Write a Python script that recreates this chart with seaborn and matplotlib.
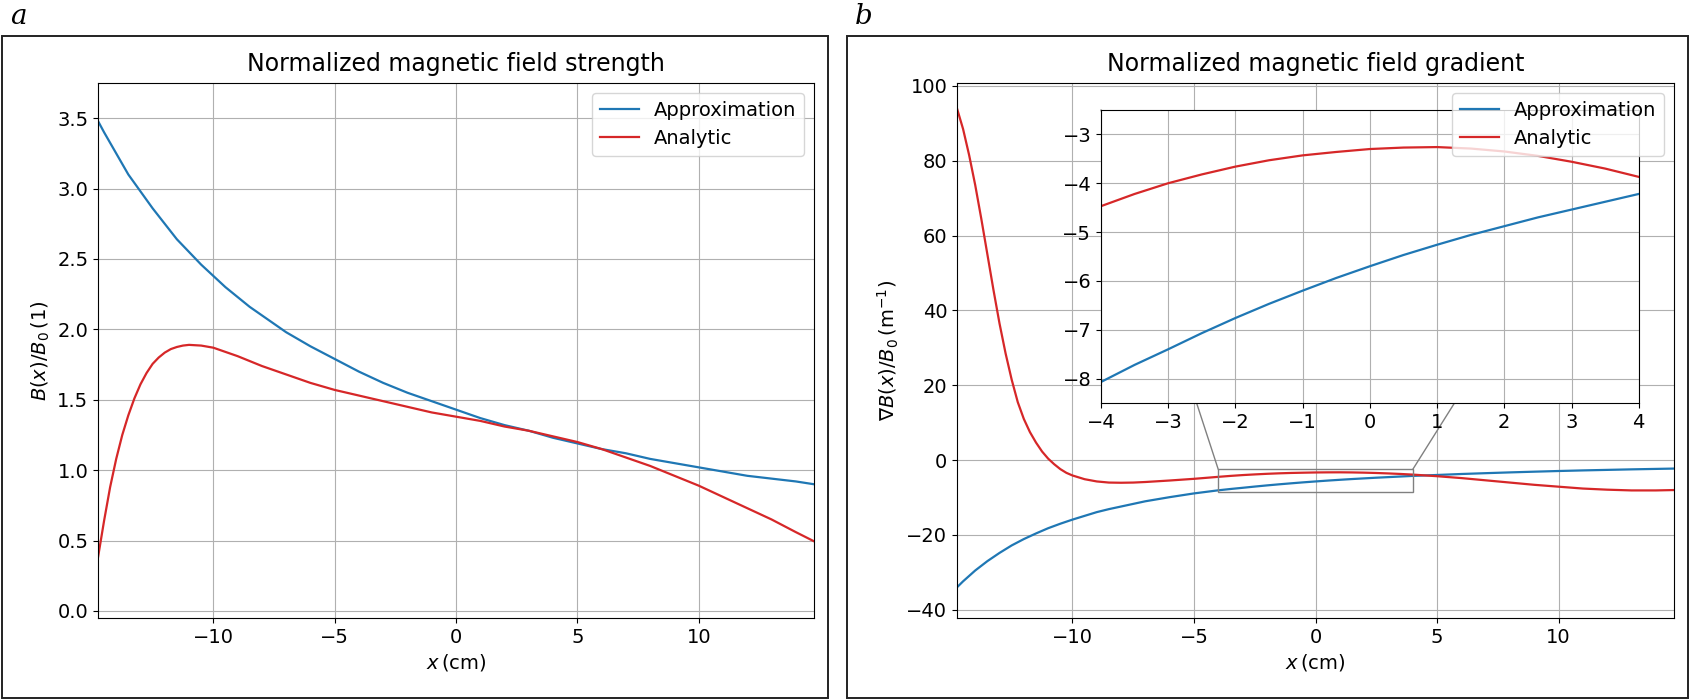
"""
Normalized magnetic field strength and gradient
===============================================
"""

# Libraries
import matplotlib
matplotlib.use('Agg')
import seaborn as sns
import matplotlib.pyplot as plt
from matplotlib.patches import Rectangle, ConnectionPatch

# -----------------------------------
# Data
# -----------------------------------
# Position along the axis (cm)
x_approx = [-14.75, -14.5, -14, -13.5, -13, -12.5, -12, -11.5, -11, -10.5,
            -10, -9.5, -9, -8.5, -8, -7, -6, -5, -4, -3, -2, -1, 0, 1, 2, 3,
            4, 5, 6, 7, 8, 9, 10, 11, 12, 13, 14, 14.75]

# Field strength, approximation
b_approx = [3.48, 3.40, 3.25, 3.10, 2.98, 2.86, 2.75, 2.64, 2.55, 2.46, 2.38,
            2.30, 2.23, 2.16, 2.10, 1.98, 1.88, 1.79, 1.70, 1.62, 1.55, 1.49,
            1.43, 1.37, 1.32, 1.28, 1.23, 1.19, 1.15, 1.12, 1.08, 1.05, 1.02,
            0.99, 0.96, 0.94, 0.92, 0.90]

# Field strength, analytic
x_analytic = [-14.75, -14.5, -14.25, -14.0, -13.75, -13.5, -13.25, -13.0,
              -12.75, -12.5, -12.25, -12.0, -11.75, -11.5, -11.25, -11.0,
              -10.5, -10, -9, -8, -7, -6, -5, -4, -3, -2, -1, 0, 1, 2, 3, 4,
              5, 6, 7, 8, 9, 10, 11, 12, 13, 14, 14.75]
b_analytic = [0.38, 0.64, 0.88, 1.08, 1.25, 1.39, 1.51, 1.61, 1.69, 1.755,
              1.80, 1.835, 1.86, 1.875, 1.885, 1.89, 1.885, 1.87, 1.81, 1.74,
              1.68, 1.62, 1.57, 1.53, 1.49, 1.45, 1.41, 1.38, 1.35, 1.31,
              1.28, 1.24, 1.20, 1.15, 1.09, 1.03, 0.96, 0.89, 0.81, 0.73,
              0.65, 0.56, 0.495]

# Gradient, approximation (1/m)
x_grad_approx = [-14.75, -14.5, -14, -13.5, -13, -12.5, -12, -11.5, -11,
                 -10.5, -10, -9.5, -9, -8.5, -8, -7.5, -7, -6, -5, -4, -3.5,
                 -3, -2.5, -2, -1.5, -1, -0.5, 0, 0.5, 1, 1.5, 2, 2.5, 3, 3.5,
                 4, 5, 6, 7, 8, 9, 10, 11, 12, 13, 14, 14.75]
g_approx = [-34.0, -32.4, -29.5, -27.0, -24.8, -22.8, -21.1, -19.6, -18.2,
            -17.0, -15.9, -14.9, -13.9, -13.1, -12.4, -11.7, -11.0, -9.9,
            -8.9, -8.07, -7.72, -7.40, -7.07, -6.76, -6.47, -6.20, -5.94,
            -5.70, -5.47, -5.26, -5.06, -4.88, -4.70, -4.54, -4.38, -4.22,
            -3.97, -3.71, -3.49, -3.28, -3.09, -2.91, -2.75, -2.61, -2.47,
            -2.35, -2.26]

# Gradient, analytic (1/m)
x_grad_analytic = [-14.75, -14.5, -14.25, -14.0, -13.75, -13.5, -13.25, -13.0,
                   -12.75, -12.5, -12.25, -12.0, -11.75, -11.5, -11.25, -11.0,
                   -10.75, -10.5, -10.25, -10.0, -9.5, -9.0, -8.5, -8.0, -7.5,
                   -7.0, -6.0, -5.0, -4.0, -3.5, -3.0, -2.5, -2.0, -1.5, -1.0,
                   -0.5, 0.0, 0.5, 1.0, 1.5, 2.0, 2.5, 3.0, 3.5, 4.0, 5.0, 6.0,
                   7.0, 8.0, 9.0, 10.0, 11.0, 12.0, 13.0, 14.0, 14.75]
g_analytic = [94.0, 88.5, 81.5, 73.5, 64.5, 55.0, 45.5, 36.5, 28.5, 21.5,
              15.5, 11.0, 7.5, 4.7, 2.3, 0.4, -1.1, -2.4, -3.4, -4.1, -5.1,
              -5.7, -6.0, -6.05, -6.0, -5.85, -5.45, -5.0, -4.47, -4.22,
              -4.00, -3.82, -3.66, -3.53, -3.43, -3.36, -3.30, -3.27, -3.26,
              -3.29, -3.35, -3.44, -3.56, -3.70, -3.87, -4.3, -4.8, -5.4,
              -6.0, -6.6, -7.1, -7.6, -7.9, -8.1, -8.1, -8.0]

# Colors
C_APPROX = '#1f77b4'
C_ANALYTIC = '#d62728'
LW = 1.6

# -----------------------------------
# Configuration
# -----------------------------------
plt.rcParams.update({
    'font.size': 14,
    'axes.titlesize': 17,
    'axes.labelsize': 14,
    'xtick.labelsize': 14,
    'ytick.labelsize': 14,
    'legend.fontsize': 14,
})

W, H = 1691, 700
fig = plt.figure(figsize=(W / 100, H / 100), dpi=100)

# Panel frames and letters
for x0, x1, letter in [(2, 828, 'a'), (847, 1688, 'b')]:
    fig.add_artist(Rectangle((x0 / W, 2 / H), (x1 - x0) / W, 662 / H,
                             transform=fig.transFigure, fill=False,
                             edgecolor='#222222', linewidth=1.4))
    fig.text((x0 + 8) / W, 1 - 16 / H, letter, fontsize=20,
             family='DejaVu Serif', style='italic', va='center')

# Axes
ax1 = fig.add_axes([98 / W, 82 / H, 716 / W, 535 / H])
ax2 = fig.add_axes([957 / W, 82 / H, 717 / W, 535 / H])

# -----------------------------------
# Panel a
# -----------------------------------
sns.lineplot(x=x_approx, y=b_approx, color=C_APPROX, lw=LW,
             label='Approximation', ax=ax1)
sns.lineplot(x=x_analytic, y=b_analytic, color=C_ANALYTIC, lw=LW,
             label='Analytic', ax=ax1)
ax1.set(xlim=(-14.75, 14.75), ylim=(-0.05, 3.75),
        xticks=[-10, -5, 0, 5, 10],
        yticks=[0, 0.5, 1.0, 1.5, 2.0, 2.5, 3.0, 3.5])
ax1.set_title('Normalized magnetic field strength', pad=9)
ax1.set_xlabel(r'$x\,(\mathrm{cm})$')
ax1.set_ylabel(r'$B(x)/B_0\,(1)$')
ax1.grid(True)
ax1.legend(loc='upper right')

# -----------------------------------
# Panel b
# -----------------------------------
sns.lineplot(x=x_grad_approx, y=g_approx, color=C_APPROX, lw=LW,
             label='Approximation', ax=ax2)
sns.lineplot(x=x_grad_analytic, y=g_analytic, color=C_ANALYTIC, lw=LW,
             label='Analytic', ax=ax2)
ax2.set(xlim=(-14.75, 14.75), ylim=(-42.2, 100.8),
        xticks=[-10, -5, 0, 5, 10])
ax2.set_title('Normalized magnetic field gradient', pad=9)
ax2.set_xlabel(r'$x\,(\mathrm{cm})$')
ax2.set_ylabel(r'$\nabla B(x)/B_0\,(\mathrm{m}^{-1})$')
ax2.grid(True)

# Inset zoom
axins = ax2.inset_axes([0.2008, 0.4019, 0.750, 0.5477])
sns.lineplot(x=x_grad_approx, y=g_approx, color=C_APPROX, lw=LW,
             ax=axins, legend=False)
sns.lineplot(x=x_grad_analytic, y=g_analytic, color=C_ANALYTIC, lw=LW,
             ax=axins, legend=False)
axins.set(xlim=(-4, 4), ylim=(-8.5, -2.5), xlabel='', ylabel='',
          xticks=range(-4, 5), yticks=range(-8, -2))
axins.grid(True)

# Zoom box and connectors (drawn under the inset)
ax2.add_patch(Rectangle((-4, -8.5), 8, 6, fill=False, edgecolor='0.5',
                        linewidth=1.0, zorder=4.5))
for xa, xb in [(-4, 0), (4, 1)]:
    con = ConnectionPatch(xyA=(xa, -2.5), coordsA=ax2.transData,
                          xyB=(xb, 1), coordsB=axins.transAxes,
                          color='0.5', linewidth=1.0, zorder=4)
    ax2.add_artist(con)

ax2.legend(loc='upper right')

# Save
fig.savefig('out.png', dpi=100)
